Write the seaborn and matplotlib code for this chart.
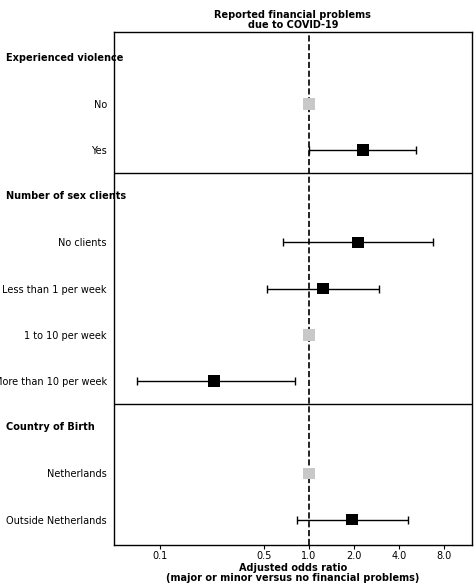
import numpy as np
import pandas as pd
import seaborn as sns
import matplotlib.pyplot as plt
from matplotlib.transforms import blended_transform_factory

# Groups, row labels and estimates (odds ratio with 95% CI)
groups = ["Experienced violence", "Number of sex clients", "Country of Birth"]
labels = ["No", "Yes",
          "No clients", "Less than 1 per week", "1 to 10 per week", "More than 10 per week",
          "Netherlands", "Outside Netherlands"]
group_of = [0, 0, 1, 1, 1, 1, 2, 2]
odds = [1.0, 2.3, 2.13, 1.24, 1.0, 0.23, 1.0, 1.94]
lower = [np.nan, 1.0, 0.67, 0.52, np.nan, 0.07, np.nan, 0.83]
upper = [np.nan, 5.2, 6.8, 2.95, np.nan, 0.8, np.nan, 4.6]
reference = [True, False, False, False, True, False, True, False]

# row positions: each group gets a header row
rows, header_rows = [], []
r = 0
for g in range(len(groups)):
    header_rows.append(r)
    r += 1
    for i, gi in enumerate(group_of):
        if gi == g:
            rows.append(r)
            r += 1

df = pd.DataFrame({"label": labels, "row": rows, "odds": odds,
                   "lower": lower, "upper": upper, "ref": reference})

sns.set_style("white")
plt.rcParams["text.color"] = "black"
plt.rcParams["xtick.color"] = "black"
plt.rcParams["ytick.color"] = "black"
plt.rcParams["axes.labelcolor"] = "black"
fig = plt.figure(figsize=(4.74, 5.86), dpi=100)
ax = fig.add_axes([0.24, 0.07, 0.756, 0.875])

est = df[~df["ref"]]
ax.errorbar(est["odds"], est["row"],
            xerr=[est["odds"] - est["lower"], est["upper"] - est["odds"]],
            fmt="none", ecolor="black", elinewidth=1, capsize=3, capthick=1, zorder=2)
sns.scatterplot(data=df, x="odds", y="row", hue="ref", palette={False: "black", True: "#c8c8c8"},
                marker="s", s=70, edgecolor="none", legend=False, ax=ax, zorder=3)

ax.axvline(1.0, color="black", linestyle="--", linewidth=1.2, zorder=1)
for hr in header_rows[1:]:
    ax.axhline(hr - 0.5, color="black", linewidth=1)

ax.set_xscale("log")
ax.set_xlim(0.049, 12.4)
ax.set_ylim(10.55, -0.55)
ticks = [0.1, 0.5, 1.0, 2.0, 4.0, 8.0]
ax.set_xticks(ticks)
ax.set_xticklabels(["0.1", "0.5", "1.0", "2.0", "4.0", "8.0"], fontsize=7)
ax.minorticks_off()
ax.tick_params(axis="x", length=3, direction="out", bottom=True, pad=1.5)
ax.set_yticks(df["row"])
ax.set_yticklabels(df["label"], fontsize=7)
ax.tick_params(axis="y", length=0, pad=5)

trans = blended_transform_factory(fig.transFigure, ax.transData)
for g, hr in zip(groups, header_rows):
    ax.text(0.013, hr, g, transform=trans, fontsize=7, fontweight="bold", va="center", ha="left")

for s in ax.spines.values():
    s.set_color("black")
    s.set_linewidth(1)

ax.set_xlabel("Adjusted odds ratio\n(major or minor versus no financial problems)",
              fontsize=7, fontweight="bold", labelpad=1, linespacing=1.0)
ax.set_title("Reported financial problems\ndue to COVID-19", fontsize=7, fontweight="bold",
             pad=3, linespacing=1.0)
ax.set_ylabel("")

fig.savefig("out.png", dpi=100)
